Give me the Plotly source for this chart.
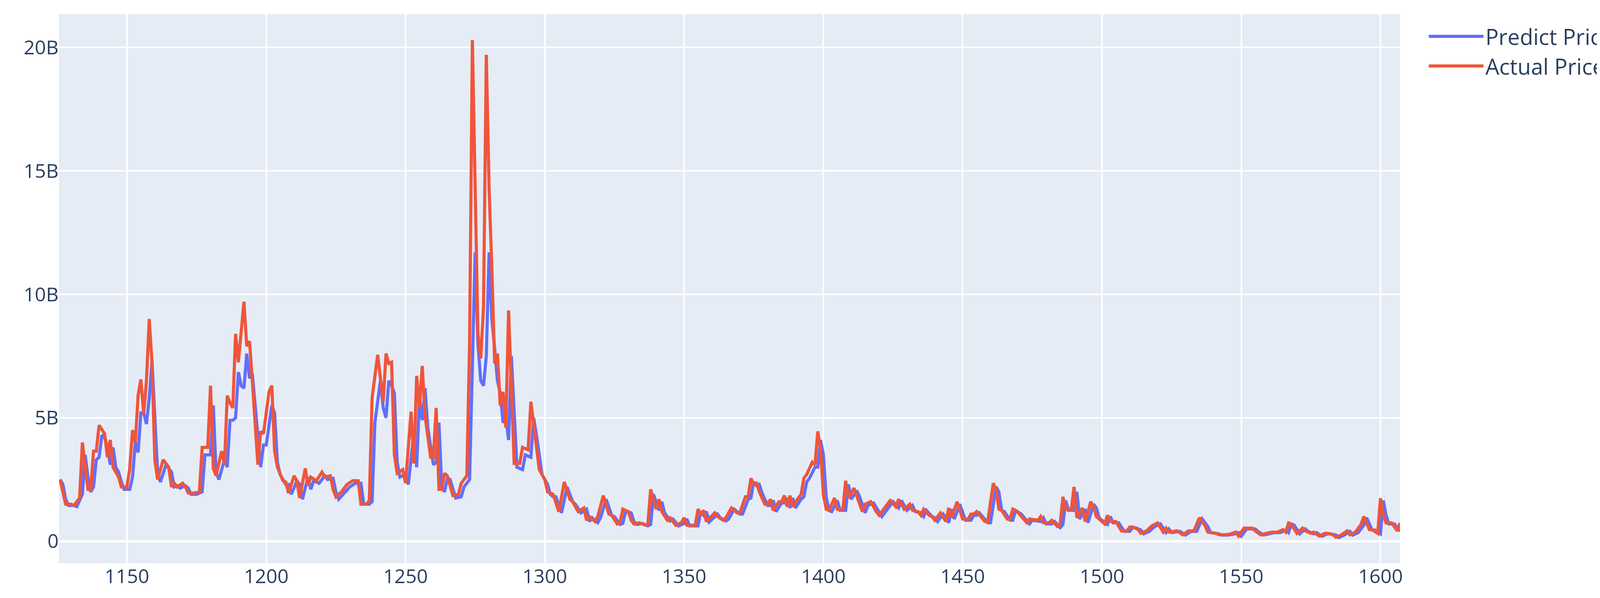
import plotly.graph_objects as go

# values in billions
actual_points = [
(1126,2.5),(1127,1.95),(1128,1.5),(1130,1.5),(1131,1.45),(1133,1.75),(1134,4.0),(1136,2.1),(1137,2.1),(1138,3.65),(1139,3.65),(1140,4.7),(1142,4.35),(1143,3.4),(1144,4.1),(1145,3.0),(1147,2.6),(1148,2.2),(1150,2.2),(1151,2.95),(1152,4.5),(1153,4.0),(1154,5.9),(1155,6.55),(1156,5.15),(1157,6.5),(1158,9.0),(1159,7.2),(1160,3.3),(1161,2.5),(1163,3.3),(1165,3.0),(1166,2.2),(1167,2.35),(1168,2.2),(1170,2.35),(1171,2.2),(1172,1.95),(1174,1.95),(1176,2.0),(1177,3.8),(1179,3.8),(1180,6.3),(1181,2.95),(1182,2.65),(1184,3.65),(1185,3.1),(1186,5.9),(1187,5.6),(1188,5.4),(1189,8.4),(1190,7.25),(1192,9.7),(1193,7.9),(1194,8.1),(1195,6.5),(1197,3.1),(1198,4.45),(1199,4.35),(1201,6.05),(1202,6.3),(1203,3.65),(1204,3.0),(1206,2.45),(1207,2.4),(1208,1.95),(1210,2.65),(1211,2.45),(1212,1.75),(1214,2.95),(1215,2.25),(1216,2.6),(1218,2.45),(1220,2.8),(1221,2.6),(1223,2.65),(1224,2.1),(1225,1.8),(1227,2.0),(1229,2.3),(1231,2.45),(1233,2.45),(1234,1.5),(1236,1.5),(1237,1.65),(1238,5.8),(1240,7.55),(1242,5.65),(1243,7.6),(1244,7.2),(1245,7.25),(1246,3.5),(1247,2.75),(1249,2.9),(1250,2.35),(1252,5.25),(1253,3.15),(1254,6.7),(1255,5.4),(1256,7.1),(1257,5.1),(1259,3.4),(1260,3.4),(1261,5.4),(1262,2.1),(1263,2.1),(1264,2.75),(1265,2.65),(1267,1.85),(1269,1.9),(1270,2.35),(1272,2.65),(1273,8.0),(1274,20.3),(1275,14.3),(1276,8.4),(1277,7.4),(1278,9.5),(1279,19.7),(1280,14.3),(1281,11.0),(1282,7.2),(1283,7.6),(1284,5.5),(1285,6.05),(1286,4.6),(1287,9.35),(1288,6.3),(1289,3.15),(1291,3.15),(1292,3.8),(1294,3.7),(1295,5.65),(1296,4.75),(1298,2.9),(1300,2.5),(1301,2.0),(1302,1.95),(1303,1.9),(1305,1.2),(1307,2.4),(1309,1.7),(1310,1.6),(1312,1.2),(1314,1.35),(1315,0.85),(1316,1.0),(1318,0.8),(1319,1.0),(1321,1.85),(1323,1.1),(1324,1.05),(1326,0.7),(1327,0.75),(1328,1.3),(1330,1.2),(1331,0.85),(1332,0.7),(1334,0.75),(1336,0.65),(1337,0.7),(1338,2.1),(1340,1.3),(1341,1.7),(1342,1.2),(1344,0.85),(1345,0.95),(1347,0.65),(1349,0.75),(1350,0.95),(1351,0.65),(1354,0.65),(1355,1.3),(1356,1.1),(1357,1.25),(1358,0.8),(1361,1.15),(1362,1.0),(1364,0.85),(1365,0.95),(1367,1.35),(1369,1.15),(1370,1.15),(1372,1.8),(1373,1.8),(1374,2.55),(1375,2.3),(1376,2.35),(1377,2.0),(1379,1.5),(1380,1.5),(1381,1.7),(1382,1.25),(1384,1.6),(1385,1.6),(1386,1.85),(1387,1.4),(1388,1.85),(1389,1.4),(1391,1.75),(1392,1.9),(1393,2.55),(1394,2.7),(1396,3.2),(1397,3.1),(1398,4.45),(1399,3.7),(1400,1.9),(1401,1.3),(1402,1.25),(1404,1.75),(1405,1.3),(1407,1.3),(1408,2.45),(1409,1.75),(1411,2.15),(1412,1.85),(1414,1.2),(1415,1.5),(1417,1.6),(1419,1.2),(1420,1.05),(1422,1.35),(1424,1.65),(1426,1.4),(1427,1.7),(1429,1.3),(1431,1.5),(1432,1.25),(1434,1.2),(1435,1.05),(1436,1.3),(1438,1.05),(1439,1.0),(1440,0.85),(1442,1.15),(1444,0.8),(1445,1.35),(1446,0.95),(1448,1.6),(1450,0.9),(1452,0.9),(1453,1.1),(1454,1.1),(1455,1.2),(1457,0.9),(1458,0.8),(1459,0.8),(1461,2.35),(1462,2.1),(1463,1.3),(1464,1.25),(1466,0.9),(1467,0.9),(1468,1.3),(1470,1.15),(1471,1.0),(1473,0.75),(1474,0.9),(1477,0.85),(1478,1.0),(1479,0.75),(1481,0.75),(1482,0.85),(1484,0.6),(1485,0.7),(1486,1.8),(1487,1.3),(1489,1.3),(1490,2.2),(1491,0.95),(1493,1.35),(1494,0.8),(1496,1.6),(1497,1.4),(1498,1.0),(1500,0.8),(1501,0.7),(1502,1.05),(1503,0.8),(1505,0.8),(1507,0.42),(1509,0.42),(1510,0.58),(1511,0.58),(1513,0.47),(1514,0.32),(1516,0.42),(1518,0.63),(1520,0.74),(1522,0.37),(1523,0.53),(1524,0.37),(1527,0.42),(1529,0.26),(1531,0.42),(1533,0.42),(1535,0.95),(1537,0.63),(1538,0.37),(1541,0.32),(1542,0.26),(1544,0.26),(1546,0.29),(1548,0.37),(1549,0.21),(1551,0.53),(1552,0.53),(1554,0.53),(1555,0.42),(1557,0.26),(1559,0.32),(1561,0.37),(1563,0.37),(1565,0.47),(1566,0.37),(1567,0.74),(1568,0.68),(1570,0.32),(1572,0.53),(1573,0.42),(1575,0.32),(1576,0.37),(1578,0.21),(1580,0.32),(1581,0.32),(1583,0.26),(1584,0.16),(1586,0.26),(1588,0.42),(1589,0.26),(1591,0.37),(1593,0.68),(1594,1.0),(1595,0.74),(1596,0.47),(1597,0.47),(1599,0.32),(1600,1.74),(1601,1.1),(1602,0.74),(1604,0.74),(1606,0.42),(1607,0.74),
]

predict_points = [
(1126,2.5),(1127,2.3),(1128,1.7),(1129,1.45),(1131,1.45),(1132,1.4),(1134,1.9),(1135,3.5),(1136,2.6),(1137,2.0),(1138,2.2),(1139,3.3),(1140,3.4),(1141,4.3),(1142,4.2),(1143,3.8),(1144,3.1),(1145,3.8),(1146,3.0),(1147,2.8),(1148,2.4),(1149,2.1),(1151,2.1),(1152,2.6),(1153,4.0),(1154,3.6),(1155,5.2),(1156,5.2),(1157,4.75),(1158,5.8),(1159,7.3),(1160,5.0),(1161,2.8),(1162,2.4),(1164,3.1),(1166,2.8),(1167,2.2),(1168,2.25),(1169,2.15),(1171,2.25),(1172,2.15),(1173,1.9),(1175,1.9),(1177,2.0),(1178,3.5),(1180,3.5),(1181,5.5),(1182,2.8),(1183,2.5),(1185,3.3),(1186,3.0),(1187,4.9),(1188,4.9),(1189,5.0),(1190,6.85),(1191,6.3),(1192,6.2),(1193,7.6),(1194,6.6),(1195,6.8),(1196,5.5),(1198,3.0),(1199,3.9),(1200,3.9),(1202,5.5),(1203,5.2),(1204,3.2),(1205,2.7),(1207,2.3),(1208,2.3),(1209,1.9),(1211,2.45),(1212,2.3),(1213,1.7),(1215,2.6),(1216,2.1),(1217,2.45),(1219,2.35),(1221,2.65),(1222,2.5),(1224,2.55),(1225,2.0),(1226,1.7),(1228,1.95),(1230,2.2),(1232,2.35),(1234,2.35),(1235,1.5),(1237,1.5),(1238,1.6),(1239,4.8),(1241,6.5),(1242,5.4),(1243,5.0),(1244,6.5),(1245,6.3),(1246,6.0),(1247,3.2),(1248,2.6),(1250,2.7),(1251,2.3),(1253,4.4),(1254,3.0),(1255,5.8),(1256,4.9),(1257,6.2),(1258,4.6),(1260,3.1),(1261,3.2),(1262,4.8),(1263,2.2),(1264,2.0),(1265,2.55),(1266,2.5),(1268,1.75),(1270,1.8),(1271,2.2),(1273,2.5),(1274,7.0),(1275,11.7),(1276,8.0),(1277,6.5),(1278,6.3),(1279,7.5),(1280,11.7),(1281,9.0),(1282,7.8),(1283,6.5),(1284,6.0),(1285,4.8),(1286,5.0),(1287,4.1),(1288,7.5),(1289,5.2),(1290,3.0),(1292,2.9),(1293,3.5),(1295,3.4),(1296,5.0),(1297,4.3),(1299,2.7),(1301,2.3),(1302,1.9),(1303,1.8),(1304,1.8),(1306,1.15),(1308,2.2),(1310,1.6),(1311,1.5),(1313,1.15),(1315,1.3),(1316,0.8),(1317,0.95),(1319,0.75),(1320,0.95),(1322,1.7),(1324,1.05),(1325,1.0),(1327,0.68),(1328,0.72),(1329,1.2),(1331,1.15),(1332,0.8),(1333,0.68),(1335,0.72),(1337,0.62),(1338,0.68),(1339,1.9),(1341,1.25),(1342,1.6),(1343,1.15),(1345,0.82),(1346,0.9),(1348,0.62),(1350,0.72),(1351,0.9),(1352,0.62),(1355,0.62),(1356,1.2),(1357,1.05),(1358,1.2),(1359,0.78),(1362,1.1),(1363,0.95),(1365,0.82),(1366,0.9),(1368,1.3),(1370,1.1),(1371,1.1),(1373,1.7),(1374,1.75),(1375,2.4),(1376,2.25),(1377,2.3),(1378,1.95),(1380,1.45),(1381,1.45),(1382,1.65),(1383,1.2),(1385,1.55),(1386,1.55),(1387,1.75),(1388,1.35),(1389,1.75),(1390,1.35),(1392,1.7),(1393,1.8),(1394,2.4),(1395,2.55),(1397,3.0),(1398,3.0),(1399,4.1),(1400,3.5),(1401,1.8),(1402,1.25),(1403,1.2),(1405,1.65),(1406,1.25),(1408,1.25),(1409,2.3),(1410,1.7),(1412,2.05),(1413,1.8),(1415,1.15),(1416,1.45),(1418,1.55),(1420,1.15),(1421,1.0),(1423,1.3),(1425,1.6),(1427,1.35),(1428,1.65),(1430,1.25),(1432,1.45),(1433,1.2),(1435,1.15),(1436,1.0),(1437,1.25),(1439,1.0),(1440,0.95),(1441,0.8),(1443,1.1),(1445,0.75),(1446,1.3),(1447,0.9),(1449,1.5),(1451,0.85),(1453,0.85),(1454,1.05),(1455,1.05),(1456,1.15),(1458,0.85),(1459,0.75),(1460,0.75),(1462,2.2),(1463,2.0),(1464,1.25),(1465,1.2),(1467,0.85),(1468,0.85),(1469,1.25),(1471,1.1),(1472,0.95),(1474,0.7),(1475,0.85),(1478,0.8),(1479,0.95),(1480,0.7),(1482,0.7),(1483,0.8),(1485,0.55),(1486,0.68),(1487,1.65),(1488,1.25),(1490,1.25),(1491,2.0),(1492,0.9),(1494,1.3),(1495,0.75),(1497,1.5),(1498,1.35),(1499,0.95),(1501,0.75),(1502,0.68),(1503,1.0),(1504,0.75),(1506,0.75),(1508,0.4),(1510,0.4),(1511,0.55),(1512,0.55),(1514,0.45),(1515,0.3),(1517,0.4),(1519,0.6),(1521,0.7),(1523,0.35),(1524,0.5),(1525,0.35),(1528,0.4),(1530,0.25),(1532,0.4),(1534,0.4),(1536,0.9),(1538,0.6),(1539,0.35),(1542,0.3),(1543,0.25),(1545,0.25),(1547,0.28),(1549,0.35),(1550,0.2),(1552,0.5),(1553,0.5),(1555,0.5),(1556,0.4),(1558,0.25),(1560,0.3),(1562,0.35),(1564,0.35),(1566,0.45),(1567,0.35),(1568,0.7),(1569,0.65),(1571,0.3),(1573,0.5),(1574,0.4),(1576,0.3),(1577,0.35),(1579,0.2),(1581,0.3),(1582,0.3),(1584,0.25),(1585,0.15),(1587,0.25),(1589,0.4),(1590,0.25),(1592,0.35),(1594,0.65),(1595,0.95),(1596,0.7),(1597,0.45),(1598,0.45),(1600,0.3),(1601,1.65),(1602,1.05),(1603,0.7),(1605,0.7),(1607,0.4),
]

ax, ay = zip(*actual_points)
px, py = zip(*predict_points)
ay = [v * 1e9 for v in ay]
py = [v * 1e9 for v in py]

fig = go.Figure()
fig.add_trace(go.Scatter(x=px, y=py, mode="lines", name="Predict Price",
                         line=dict(color="#636efa", width=8)))
fig.add_trace(go.Scatter(x=ax, y=ay, mode="lines", name="Actual Price",
                         line=dict(color="#EF553B", width=8)))

fig.update_layout(
    template="plotly",
    width=4184, height=1530,
    margin=dict(l=143, r=608, t=28, b=97),
    font=dict(family="Open Sans", size=50, color="#2a3f5f"),
    legend=dict(x=1.02, y=0.99, xanchor="left", yanchor="top",
                font=dict(size=56), itemwidth=140, tracegroupgap=0),
)
fig.update_xaxes(range=[1125.6, 1607], dtick=50, gridwidth=4, tickfont=dict(size=50))
fig.update_yaxes(range=[-0.89e9, 21.35e9], dtick=5e9, gridwidth=4, zerolinewidth=6,
                 tickfont=dict(size=50))

fig.write_html("out.html")
